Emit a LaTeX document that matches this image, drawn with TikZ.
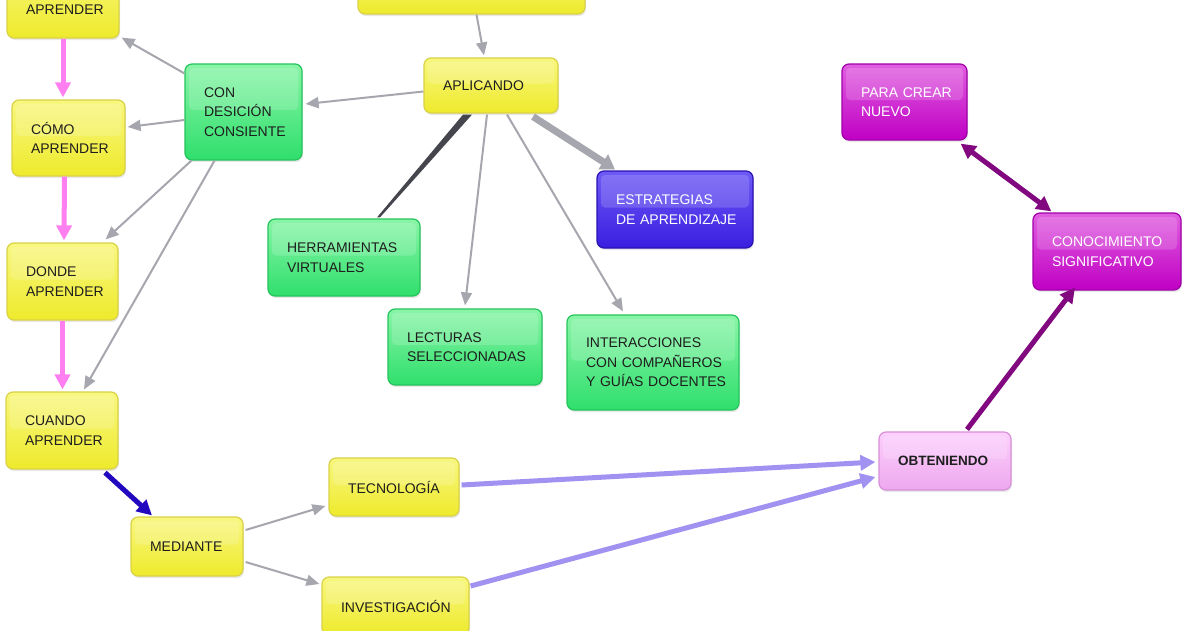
\documentclass[tikz,border=0pt]{standalone}
\usepackage{fontspec}
\setmainfont{Liberation Sans}
\usetikzlibrary{arrows.meta,calc,shadows}
\definecolor{yTop}{HTML}{F8F780}
\definecolor{yBot}{HTML}{EEEA2C}
\definecolor{yBrd}{HTML}{D9D247}
\definecolor{gTop}{HTML}{8AF5A8}
\definecolor{gBot}{HTML}{2FDF6C}
\definecolor{gBrd}{HTML}{25C45C}
\definecolor{bTop}{HTML}{6E5AF6}
\definecolor{bBot}{HTML}{3A1EE0}
\definecolor{bBrd}{HTML}{2A12B0}
\definecolor{mTop}{HTML}{E060E0}
\definecolor{mBot}{HTML}{C000C4}
\definecolor{mBrd}{HTML}{A000A8}
\definecolor{pTop}{HTML}{FCD0FC}
\definecolor{pBot}{HTML}{EEA8EE}
\definecolor{pBrd}{HTML}{D890D8}
\definecolor{arrGray}{HTML}{A6A6AE}
\definecolor{arrPink}{HTML}{FF7FF0}
\definecolor{arrBlue}{HTML}{2208BE}
\definecolor{arrLav}{HTML}{A192F2}
\definecolor{arrPurp}{HTML}{82087F}
\definecolor{darkLine}{HTML}{45454D}
\definecolor{txt}{HTML}{1E1E1E}
\tikzset{
  box/.style={rectangle, rounded corners=7pt, line width=1.2pt, inner xsep=19pt, inner ysep=0pt,
    align=left, font=\fontsize{14}{19.5}\selectfont,
    execute at begin node={\hbadness=10000 \hfuzz=200pt},
    drop shadow={opacity=0.18, shadow xshift=1pt, shadow yshift=-2pt},
    path picture={\fill[white,opacity=0.16,rounded corners=4pt]
      ([shift={(4pt,-4pt)}]path picture bounding box.north west) rectangle
      ([shift={(-4pt,2pt)}]path picture bounding box.east);}},
  ybox/.style={box, draw=yBrd, top color=yTop, bottom color=yBot, text=txt},
  gbox/.style={box, draw=gBrd, top color=gTop, bottom color=gBot, text=txt},
  bbox/.style={box, draw=bBrd, top color=bTop, bottom color=bBot, text=white},
  mbox/.style={box, draw=mBrd, top color=mTop, bottom color=mBot, text=white},
  pbox/.style={box, draw=pBrd, top color=pTop, bottom color=pBot, text=txt, font=\fontsize{13.5}{19.5}\selectfont\bfseries},
  garr/.style={draw=arrGray, line width=2pt, -{Triangle[length=13pt,width=11pt]}},
  thickarr/.style={line width=5pt, -{Triangle[length=15pt,width=15pt]}},
}
\begin{document}
\begin{tikzpicture}[x=1pt,y=-1pt]
\useasboundingbox (0,0) rectangle (1200,630);
\fill[white] (0,0) rectangle (1200,630);
\clip (0,0) rectangle (1200,630);

% nodes
\node[ybox, text width=74pt, minimum height=78pt, text height=40pt, text depth=10pt] (apr) at (63,-1) {\mbox{APRENDER}};
\node[ybox, text width=189pt, minimum height=54pt] (top) at (471.5,-13) {};
\node[gbox, text width=79pt, minimum height=96pt] (con) at (243.5,112) {\mbox{CON}\\\mbox{DESICIÓN}\\\mbox{CONSIENTE}};
\node[ybox, text width=75pt, minimum height=76pt] (como) at (68.5,138) {\mbox{CÓMO}\\\mbox{APRENDER}};
\node[ybox, text width=96pt, minimum height=55pt] (apl) at (491,85.5) {\mbox{APLICANDO}};
\node[bbox, text width=118pt, minimum height=77pt] (estr) at (675,209.5) {\mbox{ESTRATEGIAS}\\\mbox{DE APRENDIZAJE}};
\node[gbox, text width=114pt, minimum height=77pt] (herr) at (344,257.5) {\mbox{HERRAMIENTAS}\\\mbox{VIRTUALES}};
\node[ybox, text width=73pt, minimum height=77pt] (donde) at (62.5,281.5) {\mbox{DONDE}\\\mbox{APRENDER}};
\node[gbox, text width=116pt, minimum height=76pt] (lect) at (465,347) {\mbox{LECTURAS}\\\mbox{SELECCIONADAS}};
\node[gbox, text width=134pt, minimum height=95pt] (inter) at (653,362.5) {\mbox{INTERACCIONES}\\\mbox{CON COMPAÑEROS}\\\mbox{Y GUÍAS DOCENTES}};
\node[ybox, text width=74pt, minimum height=77pt] (cuando) at (62,430.5) {\mbox{CUANDO}\\\mbox{APRENDER}};
\node[ybox, text width=92pt, minimum height=58pt] (tec) at (394,487) {\mbox{TECNOLOGÍA}};
\node[ybox, text width=74pt, minimum height=59pt] (med) at (187,546.5) {\mbox{MEDIANTE}};
\node[ybox, text width=109pt, minimum height=58pt] (inv) at (395.5,606) {\mbox{INVESTIGACIÓN}};
\node[pbox, text width=94pt, minimum height=58pt] (obt) at (945,461) {\mbox{OBTENIENDO}};
\node[mbox, text width=110pt, minimum height=77pt] (con2) at (1107,251.5) {\mbox{CONOCIMIENTO}\\\mbox{SIGNIFICATIVO}};
\node[mbox, text width=87pt, minimum height=76pt] (para) at (904.5,102) {\mbox{PARA CREAR}\\\mbox{NUEVO}};

% pink chain
\draw[thickarr, draw=arrPink] (apr.south) -- ($(como.north)+(-5.5,-2)$);
\draw[thickarr, draw=arrPink] ($(como.south)+(-4,0)$) -- ($(donde.north)+(1.5,-2)$);
\draw[thickarr, draw=arrPink] (donde.south) -- ($(cuando.north)+(0.5,-2)$);

% gray arrows from CON DESICION
\draw[garr] ($(con.north west)+(0,10)$) -- ($(apr.south east)+(2,-1)$);
\draw[garr] ($(con.west)+(0,8)$) -- ($(como.east)+(2,-11)$);
\draw[garr] ($(con.south west)+(7,0)$) -- ($(donde.north east)+(-13,-3)$);
\draw[garr] ($(con.south)+(-29,0)$) -- ($(cuando.north)+(22,-2)$);

% around APLICANDO
\draw[garr] ($(top.south)+(5,0)$) -- ($(apl.north)+(-7,-2)$);
\draw[garr] ($(apl.west)+(0,6)$) -- ($(con.east)+(3,-8)$);
\fill[darkLine] ($(apl.south)+(-28,1)$) -- ($(apl.south)+(-19,1)$) -- ($(herr.north)+(36,-1)$) -- ($(herr.north)+(33,-1)$) -- cycle;
\draw[garr] ($(apl.south)+(-4,1)$) -- ($(lect.north)+(0,-3)$);
\draw[garr] ($(apl.south)+(16,1)$) -- ($(inter.north)+(-30,-3)$);
\draw[draw=arrGray, line width=7pt, -{Triangle[length=14pt,width=17pt]}] ($(apl.south)+(42,3)$) -- ($(estr.north)+(-60,-1)$);

% lower part
\draw[thickarr, draw=arrBlue] ($(cuando.south)+(43,3)$) -- ($(med.north)+(-35,-1)$);
\draw[garr] ($(med.east)+(2,-16.5)$) -- ($(tec.west)+(-3,19)$);
\draw[garr] ($(med.east)+(2,15.5)$) -- ($(inv.west)+(-2,-22)$);
\draw[thickarr, draw=arrLav] ($(tec.east)+(2,-2)$) -- ($(obt.west)+(-3,1)$);
\draw[thickarr, draw=arrLav] ($(inv.east)+(1,-20)$) -- ($(obt.west)+(-3,16)$);
\draw[thickarr, draw=arrPurp] ($(obt.north)+(22,-2)$) -- ($(con2.south)+(-32,-3)$);
\draw[line width=5pt, draw=arrPurp, {Triangle[length=15pt,width=15pt]}-{Triangle[length=15pt,width=15pt]}] ($(para.south east)+(-7,3)$) -- ($(con2.north west)+(19,-1)$);
\end{tikzpicture}
\end{document}
